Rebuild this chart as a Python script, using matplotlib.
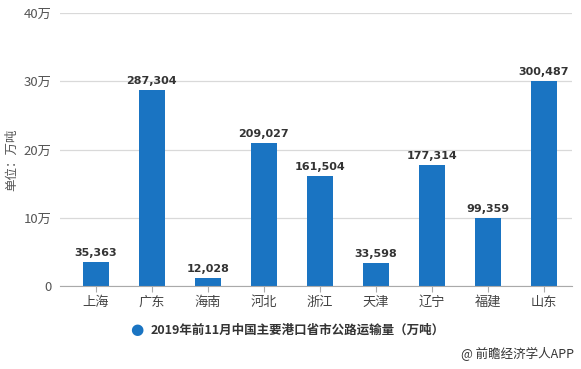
import matplotlib
matplotlib.use("Agg")
import matplotlib.pyplot as plt
from matplotlib.ticker import FixedLocator

plt.rcParams['font.family'] = ['Noto Sans CJK SC', 'DejaVu Sans']

categories = ["上海", "广东", "海南", "河北", "浙江", "天津", "辽宁", "福建", "山东"]
values = [35363, 287304, 12028, 209027, 161504, 33598, 177314, 99359, 300487]
yticks = [0, 100000, 200000, 300000, 400000]
ytick_labels = ["0", "10万", "20万", "30万", "40万"]
legend_label = "2019年前11月中国主要港口省市公路运输量（万吨）"
y_label = "单位：万吨"
source = "@ 前瞻经济学人APP"

W, H = 581, 369
fig = plt.figure(figsize=(W / 100, H / 100), dpi=100)
left, right, bottom, top = 60, 572, 286, 13
ax = fig.add_axes([left / W, 1 - bottom / H, (right - left) / W, (bottom - top) / H])

color = "#1a74c2"
x = list(range(len(categories)))
ax.bar(x, values, width=0.47, color=color, zorder=3)
for xi, v in zip(x, values):
    ax.text(xi, v + 6000, f"{v:,}", ha="center", va="bottom", fontsize=8,
            fontweight="bold", color="#333333", family=['DejaVu Sans'])

ax.set_xlim(-0.64, 8.5)
ax.set_ylim(0, 400000)
ax.yaxis.set_major_locator(FixedLocator(yticks))
ax.set_yticklabels(ytick_labels, fontsize=9.5, color="#555555")
ax.set_xticks(x)
ax.set_xticklabels(categories, fontsize=9.5, color="#444444")
ax.tick_params(axis="y", length=0, pad=6)
ax.tick_params(axis="x", length=4, color="#aaaaaa", pad=3)
ax.grid(axis="y", color="#d9d9d9", linewidth=0.9, zorder=0)
for s in ["top", "right", "left"]:
    ax.spines[s].set_visible(False)
ax.spines["bottom"].set_color("#aaaaaa")
ax.spines["bottom"].set_zorder(4)

fig.text(12 / W, 1 - 160 / H, y_label, rotation=90, ha="center", va="center",
         fontsize=9, color="#555555")

# legend
fig.text(137 / W, 1 - 330 / H, "●", ha="center", va="center", fontsize=11,
         color=color, family=['DejaVu Sans'])
fig.text(151 / W, 1 - 330 / H, legend_label, ha="left", va="center", fontsize=9,
         fontweight="bold", color="#333333")
fig.text(574 / W, 1 - 354 / H, source, ha="right", va="center", fontsize=9,
         color="#333333")

fig.savefig("out.png", dpi=100)
